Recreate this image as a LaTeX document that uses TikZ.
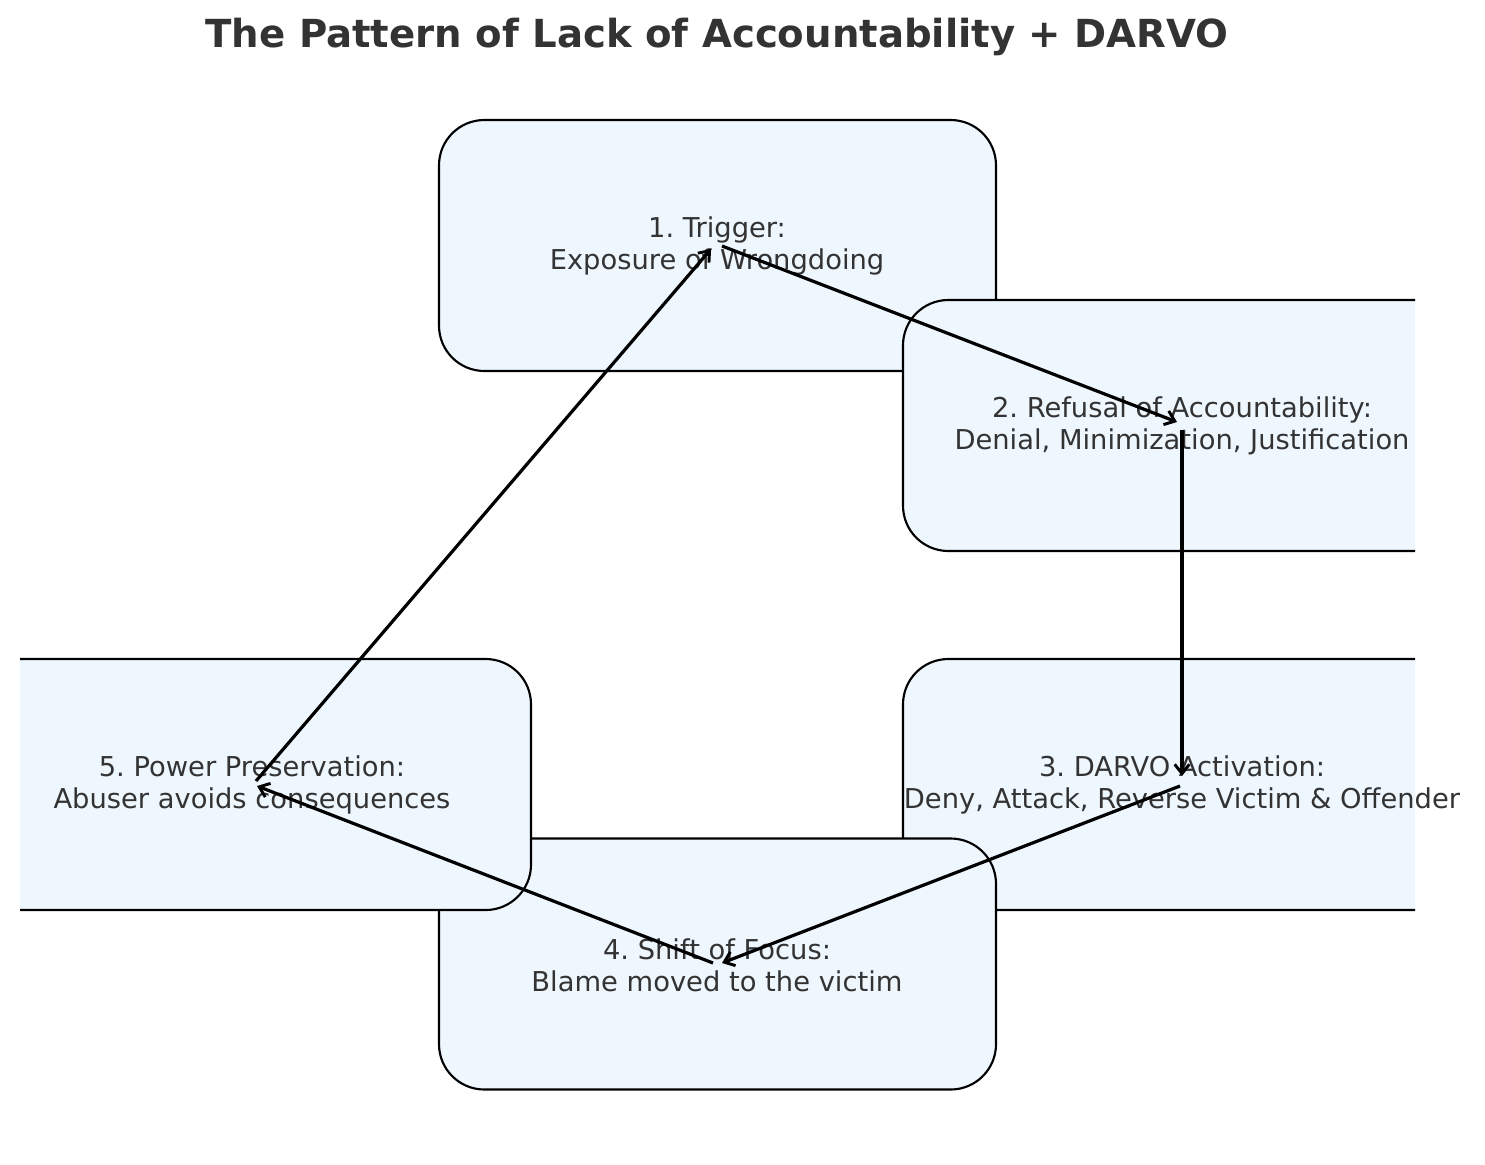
\documentclass[tikz,border=0pt]{standalone}
\usepackage{fontspec}
\setmainfont{DejaVu Sans}
\usetikzlibrary{arrows.meta}
\definecolor{boxfill}{HTML}{EEF6FE}
\definecolor{txt}{HTML}{333333}
\tikzset{
  stagebox/.style={draw=black, fill=boxfill, line width=1.6pt, rounded corners=34pt,
    minimum width=417.75pt, minimum height=188.25pt, inner sep=0pt},
  stagetext/.style={text=txt, font=\frenchspacing\fontsize{20.5}{24}\selectfont, align=center, inner sep=0pt},
  flow/.style={line width=2.4pt, -{Straight Barb[length=7pt,width=11pt,line width=2.2pt]}}
}
\begin{document}
\begin{tikzpicture}[x=0.75pt,y=-0.75pt]
\useasboundingbox (0,0) rectangle (1485,1164);
\node[font=\bfseries\fontsize{29}{34}\selectfont, text=txt] (title) at (717,37) {The Pattern of Lack of Accountability + DARVO};
\begin{scope}
\clip (20,0) rectangle (1415,1164);
\node[stagebox] (b1) at (717.5,245.5) {};
\node[stagebox] (b2) at (1181.5,425.5) {};
\node[stagebox] (b3) at (1181.5,784.5) {};
\node[stagebox] (b4) at (717.5,964) {};
\node[stagebox] (b5) at (252.5,784.5) {};
\end{scope}
\node[stagetext] (t1) at (717,246) {1. Trigger:\\Exposure of Wrongdoing};
\node[stagetext] (t2) at (1182,426) {2. Refusal of Accountability:\\Denial, Minimization, Justification};
\node[stagetext] (t3) at (1182,785) {3. DARVO Activation:\\Deny, Attack, Reverse Victim \& Offender};
\node[stagetext] (t4) at (717,965) {4. Shift of Focus:\\Blame moved to the victim};
\node[stagetext] (t5) at (252,785) {5. Power Preservation:\\Abuser avoids consequences};
\coordinate (a1s) at (722,246); \coordinate (a1e) at (1177,422);
\coordinate (a2s) at (1182,430); \coordinate (a2e) at (1182,776);
\coordinate (a3s) at (1180,786); \coordinate (a3e) at (722,963);
\coordinate (a4s) at (713,963); \coordinate (a4e) at (257,786);
\coordinate (a5s) at (256,781); \coordinate (a5e) at (711,249);
\draw[flow] (a1s) -- (a1e);
\draw[flow] (a2s) -- (a2e);
\draw[flow] (a3s) -- (a3e);
\draw[flow] (a4s) -- (a4e);
\draw[flow] (a5s) -- (a5e);
\end{tikzpicture}
\end{document}
